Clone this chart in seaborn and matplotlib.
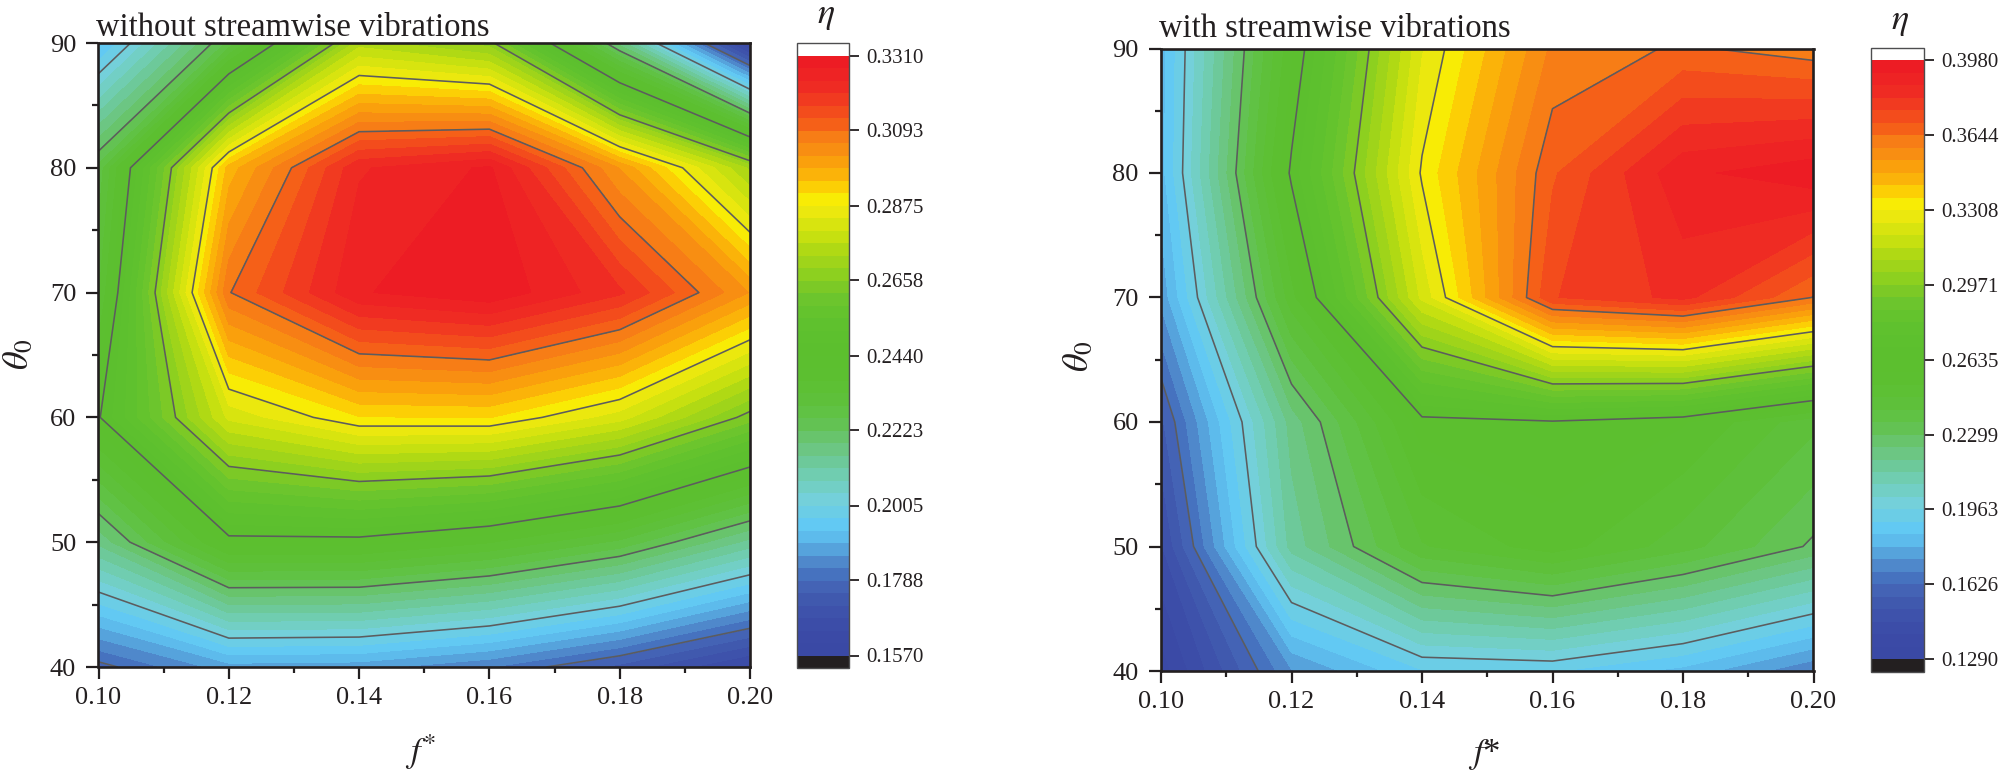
import matplotlib
matplotlib.use("Agg")
import matplotlib.pyplot as plt
from matplotlib.colors import ListedColormap, BoundaryNorm
from matplotlib.ticker import MultipleLocator, FormatStrFormatter
import numpy as np
import seaborn as sns

W, H = 2006, 778

sns.set_style("ticks")
plt.rcParams["font.family"] = ["Liberation Serif", "DejaVu Serif"]
plt.rcParams["mathtext.fontset"] = "stix"

# Strouhal-type frequency and pitch amplitude sweep
f_star = [0.10, 0.12, 0.14, 0.16, 0.18, 0.20]
theta_0 = [40, 50, 60, 70, 80, 90]

# Propulsive efficiency, one row per theta_0
eta_without = [
    [0.1772, 0.1880, 0.1874, 0.1826, 0.1739, 0.1631],
    [0.2160, 0.2420, 0.2420, 0.2370, 0.2285, 0.2137],
    [0.2435, 0.2812, 0.2909, 0.2913, 0.2819, 0.2640],
    [0.2327, 0.3090, 0.3270, 0.3304, 0.3209, 0.3018],
    [0.2270, 0.2963, 0.3233, 0.3280, 0.3018, 0.2722],
    [0.1919, 0.2268, 0.2749, 0.2676, 0.2170, 0.1582],
]
eta_with = [
    [0.1316, 0.1732, 0.1901, 0.1912, 0.1830, 0.1687],
    [0.1451, 0.2152, 0.2461, 0.2553, 0.2435, 0.2287],
    [0.1557, 0.2211, 0.2610, 0.2627, 0.2585, 0.2425],
    [0.1754, 0.2500, 0.3210, 0.3752, 0.3830, 0.3641],
    [0.1827, 0.2650, 0.3318, 0.3691, 0.3910, 0.3965],
    [0.1826, 0.2566, 0.3246, 0.3600, 0.3654, 0.3610],
]

ticks_without = [0.1570, 0.1788, 0.2005, 0.2223, 0.2440, 0.2658, 0.2875, 0.3093, 0.3310]
ticks_with = [0.1290, 0.1626, 0.1963, 0.2299, 0.2635, 0.2971, 0.3308, 0.3644, 0.3980]

# One colour per filled band, lowest first (six bands between colour bar ticks)
band_colors = [
    "#3a49a5", "#3b4aa6", "#3c4da8", "#3e52ab", "#4059ae", "#4463b5",
    "#4672bf", "#4f88cb", "#56a3dc", "#5dbbec", "#62c9f3", "#6bcde6",
    "#74d0da", "#72cfc5", "#70cdb0", "#6dc99a", "#6cc683", "#68c46c",
    "#63c253", "#60c244", "#5ec03a", "#5dc034", "#5cbf30", "#5cbf2f",
    "#5cbf2e", "#5dc02e", "#5fc12e", "#64c32d", "#6cc52d", "#7cc926",
    "#8dd01f", "#9fd41a", "#b0d914", "#c6e010", "#d8e40f", "#ebe80e",
    "#f8ec05", "#fccf05", "#fbb309", "#faa00c", "#f88e12", "#f77d16",
    "#f56018", "#f34c1c", "#f13a20", "#ef2b23", "#ee2324", "#ed1c24",
]
BANDS_PER_TICK = 6
INK = "#231f20"

cmap = ListedColormap(sns.color_palette(band_colors))
cmap.set_over("white")
cmap.set_under(INK)


def box(x0, x1, y0, y1):
    """Axes rectangle from pixel edges measured from the top left."""
    return [x0 / W, 1 - y1 / H, (x1 - x0) / W, (y1 - y0) / H]


def label(x, y, text, **kw):
    kw.setdefault("color", INK)
    kw.setdefault("ha", "center")
    kw.setdefault("va", "center")
    fig.text(x / W, 1 - y / H, text, **kw)


def panel(ax_box, cax_box, eta, ticks):
    ax = fig.add_axes(box(*ax_box))
    cax = fig.add_axes(box(*cax_box))
    levels = np.linspace(ticks[0], ticks[-1], (len(ticks) - 1) * BANDS_PER_TICK + 1)
    norm = BoundaryNorm(levels, cmap.N)
    filled = ax.contourf(f_star, theta_0, eta, levels=levels, cmap=cmap, norm=norm, extend="both")
    ax.contour(f_star, theta_0, eta, levels=ticks, colors="#5c5c5e", linewidths=1.15)

    ax.set_xlim(f_star[0], f_star[-1])
    ax.set_ylim(theta_0[0], theta_0[-1])
    ax.xaxis.set_major_locator(MultipleLocator(0.02))
    ax.xaxis.set_minor_locator(MultipleLocator(0.01))
    ax.yaxis.set_major_locator(MultipleLocator(10))
    ax.yaxis.set_minor_locator(MultipleLocator(5))
    ax.xaxis.set_major_formatter(FormatStrFormatter("%.2f"))
    ax.tick_params(which="major", direction="out", length=8.6, width=1.6,
                   labelsize=19, color=INK, labelcolor=INK, pad=6)
    ax.tick_params(axis="y", which="major", pad=7.5)
    ax.tick_params(which="minor", direction="out", length=4.3, width=1.6, color=INK)
    for spine in ax.spines.values():
        spine.set_linewidth(1.9)
        spine.set_color(INK)
        spine.set_zorder(5)

    bar = fig.colorbar(filled, cax=cax, extend="both", extendrect=True,
                       extendfrac=1 / len(band_colors), spacing="proportional")
    bar.set_ticks(ticks)
    bar.set_ticklabels([f"{t:.4f}" for t in ticks])
    bar.ax.minorticks_off()
    bar.ax.tick_params(direction="out", length=7.5, width=1.3, labelsize=15,
                       color=INK, labelcolor=INK, pad=5)
    bar.outline.set_linewidth(1.0)
    bar.outline.set_edgecolor("#4d4d4f")
    return ax


fig = plt.figure(figsize=(W / 100, H / 100), dpi=100, facecolor="white")

panel((98.5, 750, 43, 667), (797, 849, 43, 668), eta_without, ticks_without)
panel((1161, 1813.5, 48.5, 671), (1871, 1924, 48, 671.5), eta_with, ticks_with)

label(96, 36, "without streamwise vibrations", ha="left", va="baseline", fontsize=23.5)
label(1159, 37, "with streamwise vibrations", ha="left", va="baseline", fontsize=23.5)
label(421, 752, r"$f^{*}$", fontsize=25)
label(1484, 755, r"$f$*", fontsize=25)
label(20, 354, r"$\theta_{0}$", fontsize=26, rotation=90)
label(1080, 356, r"$\theta_{\mathit{0}}$", fontsize=26, rotation=90)
label(826, 16, r"$\eta$", fontsize=26)
label(1899.5, 21, r"$\eta$", fontsize=26)

fig.savefig("out.png", dpi=100, facecolor="white")
